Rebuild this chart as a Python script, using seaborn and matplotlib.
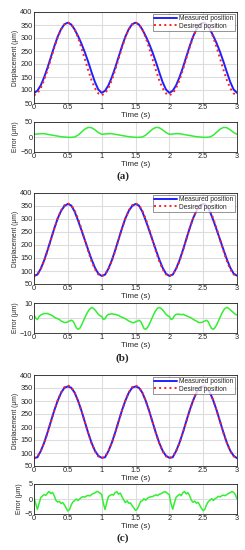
import numpy as np
import pandas as pd
import matplotlib
matplotlib.use("Agg")
import matplotlib.pyplot as plt
import seaborn as sns

# time bases (s)
t_pos = np.round(np.arange(0, 3.0001, 0.05), 3)
t_err = np.round(np.arange(0, 3.0001, 0.025), 3)

# desired position (um), same for all three cases
desired = [80, 87, 107, 138, 177, 220, 263, 302, 333, 353, 360, 353, 333, 302, 263, 220, 177, 138, 107, 87,
           80, 87, 107, 138, 177, 220, 263, 302, 333, 353, 360, 353, 333, 302, 263, 220, 177, 138, 107, 87,
           80, 87, 107, 138, 177, 220, 263, 302, 333, 353, 360, 353, 333, 302, 263, 220, 177, 138, 107, 87,
           80]

# (a) measured position and error (0.05 s steps)
measured_a = [89, 97, 118, 149, 186, 227, 268, 305, 334, 353, 359, 352, 333, 308, 279, 246, 209, 169, 131, 102,
              89, 97, 118, 149, 186, 227, 268, 305, 334, 353, 359, 352, 333, 308, 279, 246, 209, 169, 131, 102,
              89, 97, 118, 149, 186, 227, 268, 305, 334, 353, 359, 352, 333, 308, 279, 246, 209, 169, 131, 102,
              89]
error_a = [9, 10, 11, 11, 9, 7, 5, 3, 1, 0, -1, -1, 0, 6, 16, 26, 32, 31, 24, 15,
           9, 10, 11, 11, 9, 7, 5, 3, 1, 0, -1, -1, 0, 6, 16, 26, 32, 31, 24, 15,
           9, 10, 11, 11, 9, 7, 5, 3, 1, 0, -1, -1, 0, 6, 16, 26, 32, 31, 24, 15,
           9]

# (b) measured position (0.05 s steps) and error (0.025 s steps)
measured_b = [82, 86, 109, 141, 180, 222, 264, 302, 331, 350, 358, 352, 329, 295, 258, 220, 182, 145, 113, 90,
              81, 86, 109, 141, 180, 222, 264, 302, 331, 350, 358, 352, 329, 295, 258, 220, 182, 145, 113, 90,
              81, 86, 109, 141, 180, 222, 264, 302, 331, 350, 358, 352, 329, 295, 258, 220, 182, 145, 113, 90,
              82]
error_b = [2, 0, -1, 1, 2, 2.5, 3, 3, 3, 2.5, 2, 1.5, 0.5, 0, -0.5, -1, -2, -2.5, -3, -3,
           -2.5, -2, -1.5, -2, -4, -6.5, -7.5, -7, -5, -2.5, 0, 2.5, 4.5, 6, 7, 6.5, 5.5, 4, 2.5, 1.5,
           1, -1, -0.5, 1.5, 2.5, 2.5, 2.8, 2.5, 2.5, 2, 1.8, 1, 0.5, 0, -0.5, -1.2, -2, -2.5, -3, -3.2,
           -2.5, -2.2, -1.5, -2.2, -4.5, -7, -7.5, -6.5, -4.5, -2, 0.5, 3, 5, 6.5, 7, 6.5, 5.5, 4, 2.5, 1.5,
           1, -1, -0.5, 1.5, 2.5, 2.5, 2.5, 2.2, 2.5, 2, 1.5, 1, 0.5, 0, -0.8, -1.5, -2, -2.8, -3, -3,
           -2.5, -2, -1.5, -2.5, -5, -7, -7.5, -6.5, -4.5, -2, 0.5, 3, 5, 6.5, 7, 6.5, 5.5, 4.5, 3.5, 2.5,
           2]

# (c) measured position (0.05 s steps) and error (0.025 s steps)
measured_c = [80.5, 83.5, 107.5, 139.5, 179, 221.8, 264, 301, 331.5, 351, 356, 351, 332.5, 301.5, 263.5, 220.6, 178.2, 139.5, 109, 89.4,
              81.5, 83.5, 107.5, 139.5, 179, 221.8, 264, 301, 331.5, 351, 356, 351, 332.5, 301.5, 263.5, 220.6, 178.2, 139.5, 109, 89.4,
              81.5, 83.5, 107.5, 139.5, 179, 221.8, 264, 301, 331.5, 351, 356, 351, 332.5, 301.5, 263.5, 220.6, 178.2, 139.5, 109, 89.4,
              80]
error_c = [0.5, -1.5, -3.5, -1.5, 0.5, 1, 1.5, 1.2, 2, 2.5, 1.8, 2.2, 1, -0.5, -1, -0.8, -1.5, -1.2, -2, -3,
           -4, -3.5, -2, -1, -0.5, 0, -0.5, 0, 0.5, 0.8, 0.6, 1, 1.2, 1, 1.5, 1.8, 2, 2.5, 2.4, 2,
           1.5, -1.5, -3.5, -1.2, 0.8, 1.2, 1.5, 1.3, 2.2, 2.4, 1.6, 2, 0.8, -0.3, -1.2, -0.6, -1.4, -1.3, -2.2, -3,
           -3.8, -3.4, -2.2, -0.8, -0.6, 0.1, -0.4, 0.2, 0.6, 0.7, 0.8, 1.1, 1.4, 1.1, 1.6, 1.7, 2.1, 2.4, 2.3, 1.8,
           1.4, -1.6, -3.4, -1.3, 0.6, 1.1, 1.6, 1.1, 2.1, 2.5, 1.7, 2.1, 1.1, -0.4, -1.1, -0.7, -1.4, -1.1, -2.1, -3.1,
           -3.9, -3.4, -1.9, -0.9, -0.4, 0.1, -0.5, 0.1, 0.4, 0.9, 0.7, 1.1, 1.3, 1.1, 1.5, 1.9, 2.1, 2.5, 2.2, 1.5,
           0]

panels = [
    ("(a)", measured_a, t_pos, error_a, [-50, 0, 50]),
    ("(b)", measured_b, t_err, error_b, [-10, 0, 10]),
    ("(c)", measured_c, t_err, error_c, [-5, 0, 5]),
]

xticks = [0, 0.5, 1, 1.5, 2, 2.5, 3]
xticklabels = ["0", "0.5", "1", "1.5", "2", "2.5", "3"]

sns.set_style("whitegrid", {"grid.color": "#dddddd", "axes.edgecolor": "#222222"})
plt.rcParams["font.family"] = ["Liberation Sans", "DejaVu Sans"]

fig = plt.figure(figsize=(2.45, 5.5), dpi=100)

left, width = 34 / 245, 203 / 245
main_tops = [12, 193, 375]
err_tops = [122, 303, 484]
label_y = [176, 358, 538]

for i, (tag, meas, t_e, err, eticks) in enumerate(panels):
    ax = fig.add_axes([left, 1 - (main_tops[i] + 91) / 550, width, 91 / 550])
    sns.lineplot(x=t_pos, y=meas, ax=ax, color="#2020ff", lw=1.4, label="Measured position")
    sns.lineplot(x=t_pos, y=desired, ax=ax, color="#ff2020", lw=1.4, linestyle=":", label="Desired position")
    ax.set_xlim(0, 3)
    ax.set_ylim(50, 400)
    ax.set_yticks(range(50, 401, 50))
    ax.set_xticks(xticks)
    ax.set_xticklabels(xticklabels)
    ax.set_xlabel("Time (s)", fontsize=5.8, labelpad=0.5)
    ax.set_ylabel("Displacement (μm)", fontsize=4.8, labelpad=1)
    ax.tick_params(labelsize=5.3, pad=1, length=0)
    leg = ax.legend(loc="upper right", fontsize=4.8, frameon=True, fancybox=False,
                    borderpad=0.2, labelspacing=0.05, handlelength=3.5, handletextpad=0.3,
                    borderaxespad=0.3)
    leg.get_frame().set_edgecolor("#444444")
    leg.get_frame().set_linewidth(0.5)
    for s in ax.spines.values():
        s.set_linewidth(0.6)

    ax2 = fig.add_axes([left, 1 - (err_tops[i] + 30) / 550, width, 30 / 550])
    sns.lineplot(x=t_e, y=err, ax=ax2, color="#33ee33", lw=1.1)
    ax2.set_xlim(0, 3)
    ax2.set_ylim(eticks[0], eticks[-1])
    ax2.set_yticks(eticks)
    ax2.set_xticks(xticks)
    ax2.set_xticklabels(xticklabels)
    ax2.set_xlabel("Time (s)", fontsize=5.8, labelpad=0.5)
    ax2.set_ylabel("Error (μm)", fontsize=4.8, labelpad=1)
    ax2.tick_params(labelsize=5.3, pad=1, length=0)
    for s in ax2.spines.values():
        s.set_linewidth(0.6)

    fig.text(0.5, 1 - label_y[i] / 550, tag, ha="center", va="center",
             fontsize=8, fontweight="bold", family=["Liberation Serif", "DejaVu Serif"])

fig.savefig("out.png", dpi=100)
